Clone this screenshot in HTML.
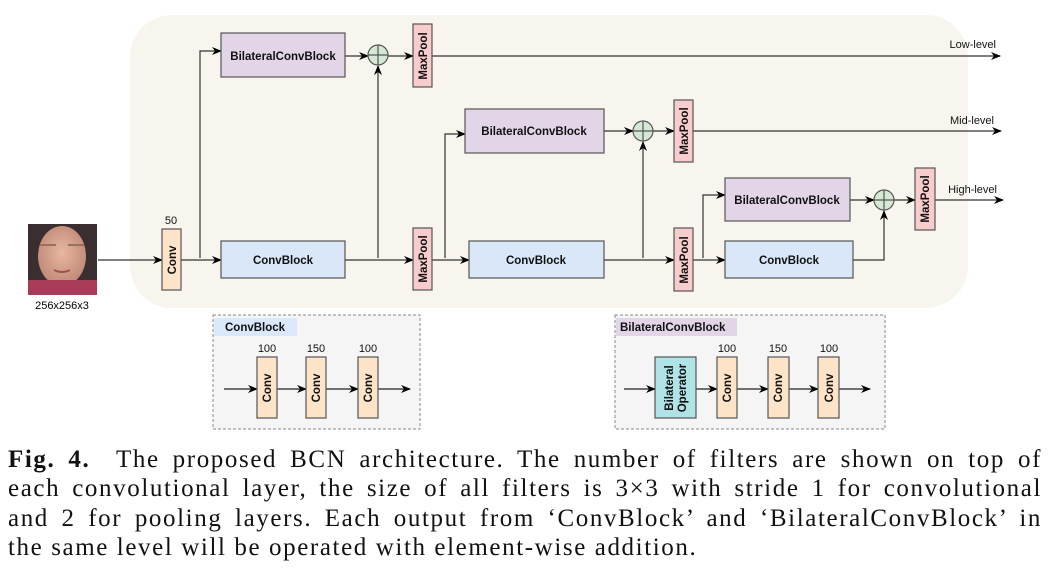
<!DOCTYPE html>
<html><head><meta charset="utf-8"><style>
html,body{margin:0;padding:0;background:#fff;}
.cap{position:absolute;left:8px;top:445px;width:1034px;font-family:"Liberation Serif",serif;font-size:25px;letter-spacing:1.6px;line-height:29.3px;color:#111;}
.cap div{white-space:nowrap;text-align:justify;text-align-last:justify;}
.cap div.last{text-align-last:left;}
</style></head><body>
<div style="position:relative;width:1063px;height:584px;overflow:hidden;">
<svg width="1063" height="440" style="position:absolute;left:0;top:0" font-family="Liberation Sans, sans-serif">
<defs>
<marker id="a" markerWidth="10" markerHeight="8" refX="9" refY="4" orient="auto" markerUnits="userSpaceOnUse"><path d="M0,0 L10,4 L0,8 L3,4 z" fill="#000"/></marker>
<radialGradient id="skin" cx="50%" cy="45%" r="55%"><stop offset="0" stop-color="#e8b8a0"/><stop offset="1" stop-color="#c08878"/></radialGradient>
</defs>
<rect x="130" y="15" width="838" height="293" rx="42" fill="#f7f5ee"/>
<rect x="28" y="224" width="69" height="71" fill="#3a2e30"/>
<ellipse cx="62" cy="256" rx="24" ry="30" fill="url(#skin)"/>
<rect x="28" y="280" width="69" height="15" fill="#a83c58"/>
<path d="M40,245 h16 M68,245 h16" stroke="#9a7060" stroke-width="2"/>
<path d="M54,270 q8,4 16,0" stroke="#a05050" stroke-width="2" fill="none"/>
<text x="62" y="309" font-size="11" text-anchor="middle">256x256x3</text>
<g stroke="#333" stroke-width="1.2" fill="none">
<line x1="98" y1="260" x2="162" y2="260" marker-end="url(#a)"/>
<line x1="181" y1="260" x2="221" y2="260" marker-end="url(#a)"/>
<polyline points="200,258 200,51 221,51" marker-end="url(#a)"/>
<line x1="345" y1="56" x2="368" y2="56" marker-end="url(#a)"/>
<line x1="388" y1="56" x2="413" y2="56" marker-end="url(#a)"/>
<line x1="378" y1="258" x2="378" y2="66" marker-end="url(#a)"/>
<line x1="345" y1="260" x2="413" y2="260" marker-end="url(#a)"/>
<line x1="432" y1="56" x2="1000" y2="56" marker-end="url(#a)"/>
<line x1="432" y1="260" x2="469" y2="260" marker-end="url(#a)"/>
<polyline points="445,258 445,134 465,134" marker-end="url(#a)"/>
<line x1="604" y1="131" x2="633" y2="131" marker-end="url(#a)"/>
<line x1="653" y1="131" x2="674" y2="131" marker-end="url(#a)"/>
<line x1="643" y1="258" x2="643" y2="142" marker-end="url(#a)"/>
<line x1="604" y1="260" x2="674" y2="260" marker-end="url(#a)"/>
<line x1="693" y1="131" x2="1001" y2="131" marker-end="url(#a)"/>
<line x1="693" y1="260" x2="725" y2="260" marker-end="url(#a)"/>
<polyline points="703,258 703,195 725,195" marker-end="url(#a)"/>
<line x1="850" y1="200" x2="874" y2="200" marker-end="url(#a)"/>
<line x1="894" y1="200" x2="915" y2="200" marker-end="url(#a)"/>
<polyline points="853,260 884,260 884,211" marker-end="url(#a)"/>
<line x1="935" y1="200" x2="1003" y2="200" marker-end="url(#a)"/>
</g>
<g stroke="#555" stroke-width="1.2">
<rect x="162" y="229" width="19" height="61" fill="#fde3c8"/>
<rect x="221" y="241" width="124" height="37" fill="#d9e7f8"/>
<rect x="221" y="33" width="124" height="44" fill="#e1d5e7"/>
<rect x="413" y="24" width="19" height="63" fill="#f7cccc"/>
<rect x="413" y="228" width="19" height="62" fill="#f7cccc"/>
<rect x="465" y="109" width="139" height="44" fill="#e1d5e7"/>
<rect x="469" y="241" width="135" height="37" fill="#d9e7f8"/>
<rect x="674" y="100" width="19" height="62" fill="#f7cccc"/>
<rect x="674" y="228" width="19" height="63" fill="#f7cccc"/>
<rect x="725" y="178" width="125" height="43" fill="#e1d5e7"/>
<rect x="725" y="241" width="128" height="37" fill="#d9e7f8"/>
<rect x="915" y="168" width="20" height="62" fill="#f7cccc"/>
<circle cx="378" cy="55" r="10" fill="#d5e8d4"/>
<circle cx="643" cy="131" r="10" fill="#d5e8d4"/>
<circle cx="884" cy="200" r="10" fill="#d5e8d4"/>
<path d="M368,55h20M378,45v20M633,131h20M643,121v20M874,200h20M884,190v20" fill="none"/>
</g>
<g font-size="11.5" font-weight="bold" text-anchor="middle" fill="#111">
<text x="283" y="60">BilateralConvBlock</text>
<text x="283" y="264">ConvBlock</text>
<text x="534" y="135">BilateralConvBlock</text>
<text x="536" y="264">ConvBlock</text>
<text x="787" y="204">BilateralConvBlock</text>
<text x="789" y="264">ConvBlock</text>
<text transform="translate(176,260) rotate(-90)">Conv</text>
<text transform="translate(427,56) rotate(-90)">MaxPool</text>
<text transform="translate(427,259) rotate(-90)">MaxPool</text>
<text transform="translate(688,131) rotate(-90)">MaxPool</text>
<text transform="translate(688,260) rotate(-90)">MaxPool</text>
<text transform="translate(929,199) rotate(-90)">MaxPool</text>
</g>
<g font-size="11" fill="#111">
<text x="171" y="224" text-anchor="middle">50</text>
<text x="996" y="48" text-anchor="end">Low-level</text>
<text x="994" y="124" text-anchor="end">Mid-level</text>
<text x="997" y="193" text-anchor="end">High-level</text>
</g>
<rect x="213" y="315" width="207" height="114" fill="#f5f5f5" stroke="#888" stroke-dasharray="3,2"/>
<rect x="214" y="318" width="83" height="18" fill="#dae8fc"/>
<rect x="615" y="315" width="270" height="114" fill="#f5f5f5" stroke="#888" stroke-dasharray="3,2"/>
<rect x="616" y="318" width="121" height="18" fill="#e1d5e7"/>
<g stroke="#222" stroke-width="1.2">
<line x1="224" y1="389" x2="257" y2="389" marker-end="url(#a)"/>
<line x1="277" y1="389" x2="306" y2="389" marker-end="url(#a)"/>
<line x1="326" y1="389" x2="358" y2="389" marker-end="url(#a)"/>
<line x1="378" y1="389" x2="410" y2="389" marker-end="url(#a)"/>
<line x1="624" y1="389" x2="655" y2="389" marker-end="url(#a)"/>
<line x1="696" y1="389" x2="717" y2="389" marker-end="url(#a)"/>
<line x1="737" y1="389" x2="768" y2="389" marker-end="url(#a)"/>
<line x1="789" y1="389" x2="818" y2="389" marker-end="url(#a)"/>
<line x1="839" y1="389" x2="870" y2="389" marker-end="url(#a)"/>
</g>
<g stroke="#555" stroke-width="1.2" fill="#fde3c8">
<rect x="257" y="357" width="20" height="61"/>
<rect x="306" y="357" width="20" height="61"/>
<rect x="358" y="357" width="20" height="61"/>
<rect x="655" y="357" width="41" height="61" fill="#b0e3e6"/>
<rect x="717" y="357" width="20" height="61"/>
<rect x="768" y="357" width="21" height="61"/>
<rect x="818" y="357" width="21" height="61"/>
</g>
<g font-size="11.5" font-weight="bold" fill="#111">
<text x="225" y="331">ConvBlock</text>
<text x="620" y="331">BilateralConvBlock</text>
<g text-anchor="middle">
<text transform="translate(271,388) rotate(-90)">Conv</text>
<text transform="translate(320,388) rotate(-90)">Conv</text>
<text transform="translate(372,388) rotate(-90)">Conv</text>
<text transform="translate(731,388) rotate(-90)">Conv</text>
<text transform="translate(782,388) rotate(-90)">Conv</text>
<text transform="translate(833,388) rotate(-90)">Conv</text>
<text transform="translate(673,388) rotate(-90)">Bilateral</text>
<text transform="translate(686,388) rotate(-90)">Operator</text>
</g></g>
<g font-size="11" fill="#111" text-anchor="middle">
<text x="267" y="352">100</text><text x="316" y="352">150</text><text x="368" y="352">100</text>
<text x="727" y="352">100</text><text x="778" y="352">150</text><text x="829" y="352">100</text>
</g>
</svg>
<div class="cap">
<div><b>Fig. 4.</b>&nbsp; The proposed BCN architecture. The number of filters are shown on top of</div>
<div>each convolutional layer, the size of all filters is 3×3 with stride 1 for convolutional</div>
<div>and 2 for pooling layers. Each output from ‘ConvBlock’ and ‘BilateralConvBlock’ in</div>
<div class="last">the same level will be operated with element-wise addition.</div>
</div>
</div>
</body></html>
